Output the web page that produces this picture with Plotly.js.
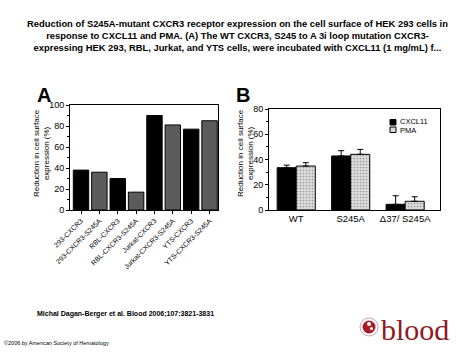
<!DOCTYPE html>
<html>
<head>
<meta charset="utf-8">
<script src="https://cdn.plot.ly/plotly-3.0.1.min.js"></script>
<style>html,body{margin:0;padding:0;background:#fff;}#chart{width:474px;height:355px;}</style>
</head>
<body>
<div id="chart"></div>
<script>
// Panel A data
var cellLines = ["293-CXCR3", "293-CXCR3-S245A", "RBL-CXCR3", "RBL-CXCR3-S245A",
                 "Jurkat-CXCR3", "Jurkat-CXCR3-S245A", "YTS-CXCR3", "YTS-CXCR3-S245A"];
var reductionA = [38, 36, 30, 17, 90, 81, 77, 85];

// Panel B data
var constructs = ["WT", "S245A", "\u039437/ S245A"];
var seriesNames = ["CXCL11", "PMA"];
var cxcl11 = [33.5, 42.8, 4.5];
var cxcl11Err = [2.0, 4.2, 6.8];
var pma = [34.8, 44.1, 6.9];
var pmaErr = [2.7, 3.9, 3.6];

var ticksA = [0, 20, 40, 60, 80, 100];
var ticksB = [0, 20, 40, 60, 80];

var FONT = "Liberation Sans, Arial, sans-serif";
var W = 474, H = 355;
function px(x){ return x / W; }
function py(y){ return 1 - y / H; }

var colorsA = cellLines.map(function(_, i){ return i % 2 === 0 ? "#000000" : "#5c5c5c"; });

var pmaMarker = { color: "#d6d6d6", line: { color: "#000", width: 1 },
                  pattern: { shape: ".", fgcolor: "#9a9a9a", bgcolor: "#dcdcdc", size: 3, solidity: 0.25 } };

var traces = [
  {
    type: "bar", x: cellLines, y: reductionA, xaxis: "x", yaxis: "y",
    width: 0.84, showlegend: false,
    marker: { color: colorsA, line: { color: "#000", width: 1 } },
    hoverinfo: "skip"
  },
  {
    type: "bar", name: seriesNames[0], x: constructs, y: cxcl11, xaxis: "x2", yaxis: "y2",
    width: 0.35, offset: -0.35, showlegend: false,
    marker: { color: "#000000", line: { color: "#000", width: 1 } },
    error_y: { type: "data", symmetric: false, array: cxcl11Err, arrayminus: [0,0,0],
               color: "#000", thickness: 1, width: 3 }
  },
  {
    type: "bar", name: seriesNames[1], x: constructs, y: pma, xaxis: "x2", yaxis: "y2",
    width: 0.35, offset: 0, showlegend: false,
    marker: pmaMarker,
    error_y: { type: "data", symmetric: false, array: pmaErr, arrayminus: [0,0,0],
               color: "#000", thickness: 1, width: 3 }
  }
];

var axisCommon = {
  showline: true, linecolor: "#000", linewidth: 1, mirror: true,
  showgrid: false, zeroline: false, ticks: "outside", ticklen: 3, tickcolor: "#000",
  tickfont: { family: FONT, size: 9, color: "#000" }, fixedrange: true
};

var annotations = [
  { xref: "paper", yref: "paper", x: px(237), y: py(36), xanchor: "center", yanchor: "middle",
    showarrow: false, align: "center",
    font: { family: FONT, size: 9.4, color: "#000" },
    text: "<b>Reduction of S245A-mutant CXCR3 receptor expression on the cell surface of HEK 293 cells in<br>response to CXCL11 and PMA. (A) The WT CXCR3, S245 to A 3i loop mutation CXCR3-<br>expressing HEK 293, RBL, Jurkat, and YTS cells, were incubated with CXCL11 (1 mg/mL) f...</b>" },
  { xref: "paper", yref: "paper", x: px(35), y: py(95), xanchor: "left", yanchor: "middle",
    showarrow: false, font: { family: FONT, size: 20, color: "#000" }, text: "<b>A</b>" },
  { xref: "paper", yref: "paper", x: px(234), y: py(95), xanchor: "left", yanchor: "middle",
    showarrow: false, font: { family: FONT, size: 20, color: "#000" }, text: "<b>B</b>" },
  { xref: "paper", yref: "paper", x: px(41), y: py(153), xanchor: "center", yanchor: "middle",
    showarrow: false, textangle: -90, align: "center",
    font: { family: FONT, size: 8, color: "#000" },
    text: "Reduction in cell surface<br>expression (%)" },
  { xref: "paper", yref: "paper", x: px(245), y: py(153), xanchor: "center", yanchor: "middle",
    showarrow: false, textangle: -90, align: "center",
    font: { family: FONT, size: 8, color: "#000" },
    text: "Reduction in cell surface<br>expression (%)" },
  // custom legend labels for panel B
  { xref: "paper", yref: "paper", x: px(398), y: py(121.5), xanchor: "left", yanchor: "middle",
    showarrow: false, font: { family: FONT, size: 7.5, color: "#000" }, text: seriesNames[0] },
  { xref: "paper", yref: "paper", x: px(398), y: py(131), xanchor: "left", yanchor: "middle",
    showarrow: false, font: { family: FONT, size: 7.5, color: "#000" }, text: seriesNames[1] },
  { xref: "paper", yref: "paper", x: px(35), y: py(314), xanchor: "left", yanchor: "middle",
    showarrow: false, font: { family: FONT, size: 7, color: "#000" },
    text: "<b>Michal Dagan-Berger et al. Blood 2006;107:3821-3831</b>" },
  { xref: "paper", yref: "paper", x: px(2), y: py(343), xanchor: "left", yanchor: "middle",
    showarrow: false, font: { family: FONT, size: 5.5, color: "#000" },
    text: "\u00a92006 by American Society of Hematology" },
  { xref: "paper", yref: "paper", x: px(379), y: py(329), xanchor: "left", yanchor: "middle",
    showarrow: false, font: { family: "Liberation Serif, Times New Roman, serif", size: 30, color: "#8e1a22" },
    text: "blood" }
];

var shapes = [
  // legend swatches
  { type: "rect", xref: "paper", yref: "paper", x0: px(390), x1: px(396), y0: py(125), y1: py(119.5),
    line: { color: "#000", width: 1 }, fillcolor: "#000" },
  { type: "rect", xref: "paper", yref: "paper", x0: px(390), x1: px(396), y0: py(132.5), y1: py(127),
    line: { color: "#000", width: 1 }, fillcolor: "#dcdcdc" },
  // logo
  { type: "circle", xref: "paper", yref: "paper", x0: px(360), x1: px(378), y0: py(336), y1: py(318),
    line: { color: "#c98a8e", width: 0.8 }, fillcolor: "#fff" },
  { type: "circle", xref: "paper", yref: "paper", x0: px(362.5), x1: px(375.5), y0: py(333.5), y1: py(320.5),
    line: { width: 0 }, fillcolor: "#a81e28" },
  { type: "circle", xref: "paper", yref: "paper", x0: px(367), x1: px(371), y0: py(326), y1: py(322),
    line: { width: 0 }, fillcolor: "#ffffff" },
  { type: "circle", xref: "paper", yref: "paper", x0: px(370), x1: px(373), y0: py(330), y1: py(327),
    line: { width: 0 }, fillcolor: "#ffffff" }
];

var layout = {
  width: W, height: H,
  margin: { l: 0, r: 0, t: 0, b: 0 },
  paper_bgcolor: "#fff", plot_bgcolor: "#fff",
  showlegend: false,
  xaxis: Object.assign({}, axisCommon, {
    domain: [px(70), px(218)], anchor: "y", range: [-0.6, 7.46],
    tickangle: -45, tickfont: { family: FONT, size: 7, color: "#000" }
  }),
  yaxis: Object.assign({}, axisCommon, {
    domain: [py(210), py(105)], anchor: "x", range: [0, 100],
    tickvals: ticksA, ticktext: ticksA.map(String),
    minor: { dtick: 10, ticks: "outside", ticklen: 2, tickcolor: "#000" }
  }),
  xaxis2: Object.assign({}, axisCommon, {
    domain: [px(269), px(440)], anchor: "y2", range: [-0.5, 2.64],
    ticks: "", tickfont: { family: FONT, size: 9.5, color: "#000" }
  }),
  yaxis2: Object.assign({}, axisCommon, {
    domain: [py(210), py(109)], anchor: "x2", range: [0, 80],
    tickvals: ticksB, ticktext: ticksB.map(String),
    minor: { dtick: 10, ticks: "outside", ticklen: 2, tickcolor: "#000" }
  }),
  annotations: annotations,
  shapes: shapes
};

Plotly.newPlot("chart", traces, layout, { staticPlot: true, displayModeBar: false });
</script>
</body>
</html>
